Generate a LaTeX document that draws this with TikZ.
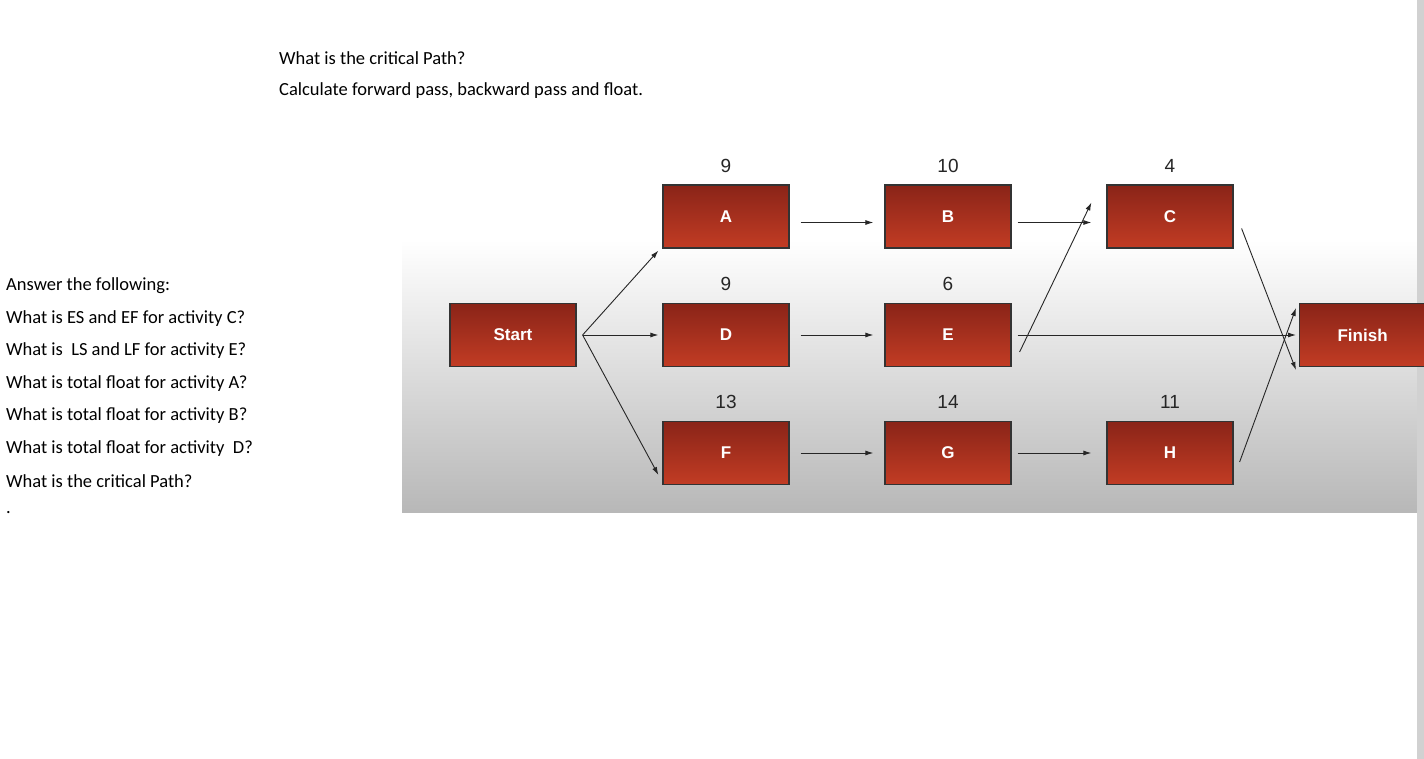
\documentclass[tikz,border=0pt]{standalone}
\usepackage{fontspec}
\setmainfont{Carlito}
\newfontfamily\arial{Liberation Sans}
\usetikzlibrary{arrows.meta}
\definecolor{boxtop}{HTML}{8A2418}
\definecolor{boxbot}{HTML}{C23C24}
\tikzset{
 act/.style={draw=black!80,line width=1.2pt,top color=boxtop,bottom color=boxbot,minimum width=126pt,minimum height=63pt,inner sep=0pt,text=white,font=\arial\bfseries\fontsize{17}{20}\selectfont},
 dur/.style={font=\arial\fontsize{19}{22}\selectfont,text=black!85},
 link/.style={-{Latex[length=8pt,width=5pt]},line width=0.9pt,black!85},
 txt/.style={anchor=west,inner sep=0pt,font=\fontsize{18.5}{22}\selectfont}
}
\begin{document}
\begin{tikzpicture}[x=1pt,y=-1pt]
\useasboundingbox (0,0) rectangle (1424,759);
\fill[white] (0,0) rectangle (1424,759);
\shade[top color=white,bottom color=black!28] (402,240) rectangle (1417,512);
\fill[black!18] (1417,0) rectangle (1424,759);
\node[txt] (t1) at (279,58) {What is the critical Path?};
\node[txt] (t2) at (279,91) {Calculate forward pass, backward pass and float.};
\node[txt] (q0) at (6,286) {Answer the following:};
\node[txt] (q1) at (6,318.5) {What is ES and EF for activity C?};
\node[txt] (q2) at (6,351) {What is\ \ LS and LF for activity E?};
\node[txt] (q3) at (6,383.5) {What is total float for activity A?};
\node[txt] (q4) at (6,416) {What is total float for activity B?};
\node[txt] (q5) at (6,448.5) {What is total float for activity\ \ D?};
\node[txt] (q6) at (6,481) {What is the critical Path?};
\node[txt] (q7) at (6,513) {.};
\node[act] (S) at (513,335) {Start};
\node[act] (A) at (726,216.5) {A};
\node[act] (B) at (948,216.5) {B};
\node[act] (C) at (1170,216.5) {C};
\node[act] (D) at (726,335) {D};
\node[act] (E) at (948,335) {E};
\node[act] (F) at (726,453) {F};
\node[act] (G) at (948,453) {G};
\node[act] (H) at (1170,453) {H};
\node[act,anchor=west] (Fin) at (1299,335) {Finish};
\node[dur] (nA) at (726,166) {9};
\node[dur] (nB) at (948,166) {10};
\node[dur] (nC) at (1170,166) {4};
\node[dur] (nD) at (726,284) {9};
\node[dur] (nE) at (948,284) {6};
\node[dur] (nF) at (726,402) {13};
\node[dur] (nG) at (948,402) {14};
\node[dur] (nH) at (1170,402) {11};
\draw[link] ([xshift=6pt]S.east) -- ([xshift=-4pt,yshift=-2pt]A.south west);
\draw[link] ([xshift=6pt]S.east) -- ([xshift=-4pt]D.west);
\draw[link] ([xshift=6pt]S.east) -- ([xshift=-4pt,yshift=-22pt]F.west);
\draw[link] ([xshift=11pt,yshift=-6pt]A.east) -- ([xshift=-11pt,yshift=-6pt]B.west);
\draw[link] ([xshift=6pt,yshift=-6pt]B.east) -- ([xshift=-15pt,yshift=-6pt]C.west);
\draw[link] ([xshift=11pt]D.east) -- ([xshift=-11pt]E.west);
\draw[link] ([xshift=11pt]F.east) -- ([xshift=-11pt]G.west);
\draw[link] ([xshift=6pt]G.east) -- ([xshift=-15pt]H.west);
\draw[link] ([xshift=8pt,yshift=-17pt]E.east) -- ([xshift=-15pt,yshift=14pt]C.west);
\draw[link] ([xshift=6pt]E.east) -- ([xshift=-3pt]Fin.west);
\draw[link] ([xshift=8pt,yshift=-12pt]C.east) -- ([xshift=-3pt,yshift=-35pt]Fin.west);
\draw[link] ([xshift=6pt,yshift=-9pt]H.east) -- ([xshift=-3pt,yshift=27pt]Fin.west);
\end{tikzpicture}
\end{document}
